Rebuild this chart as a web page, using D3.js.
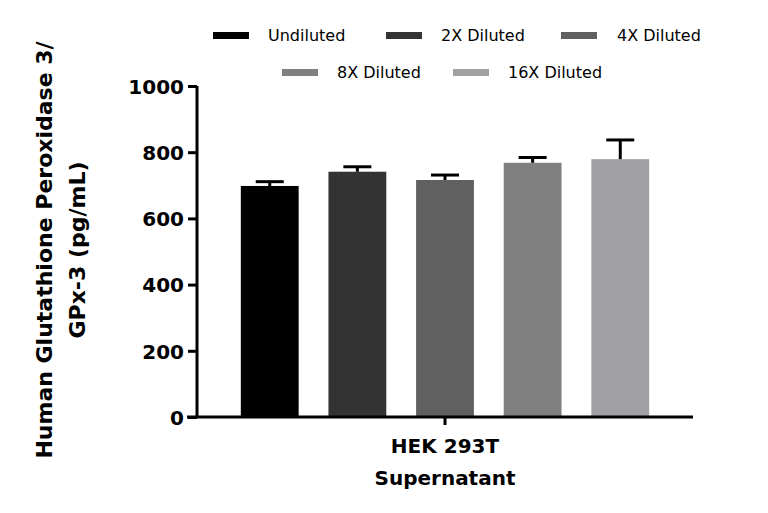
<!DOCTYPE html>
<html>
<head>
<meta charset="utf-8">
<script src="https://cdn.jsdelivr.net/npm/d3@7"></script>
<style>
  body { margin: 0; background: #fff; }
  svg text { font-family: "DejaVu Sans", "Noto Sans", sans-serif; }
</style>
</head>
<body>
<div id="chart"></div>
<script>
"use strict";

/* ── Data ── */
const groups  = ["HEK 293T Supernatant"];
const series  = ["Undiluted", "2X Diluted", "4X Diluted", "8X Diluted", "16X Diluted"];
const means   = [698, 741, 716, 768, 779];
const errors  = [13, 15, 15, 16, 58];
const colours = ["#000000", "#333333", "#606060", "#808080", "#a1a1a4"];
const yTicks  = [0, 200, 400, 600, 800, 1000];

/* ── Dimensions ── */
const W = 768, H = 513;
const margin = { top: 86, right: 75, bottom: 96, left: 197 };
const width  = W - margin.left - margin.right;
const height = H - margin.top - margin.bottom;

const svg = d3.select("#chart").append("svg")
  .attr("width", W).attr("height", H);

const g = svg.append("g")
  .attr("transform", `translate(${margin.left},${margin.top})`);

/* ── Scales ── */
const x0 = d3.scaleBand().domain(groups).range([0, width])
  .paddingInner(0).paddingOuter(0.066);
const x1 = d3.scaleBand().domain(series).range([0, x0.bandwidth()])
  .paddingInner(0.34).paddingOuter(0.17);
const y = d3.scaleLinear().domain([0, 1000]).range([height, 0]);

/* ── Bars ── */
const rows = series.map((s, i) => ({ group: groups[0], key: s, value: means[i], err: errors[i], col: colours[i] }));

const bars = g.selectAll(".bar-g").data(rows).join("g")
  .attr("transform", d => `translate(${x0(d.group) + x1(d.key)},0)`);

bars.append("rect")
  .attr("x", 0)
  .attr("y", d => y(d.value))
  .attr("width", x1.bandwidth())
  .attr("height", d => height - y(d.value))
  .attr("fill", d => d.col);

/* ── Error bars (upper only) ── */
const capW = 28;
bars.append("line")
  .attr("x1", x1.bandwidth() / 2).attr("x2", x1.bandwidth() / 2)
  .attr("y1", d => y(d.value)).attr("y2", d => y(d.value + d.err))
  .attr("stroke", "#000").attr("stroke-width", 3);
bars.append("line")
  .attr("x1", x1.bandwidth() / 2 - capW / 2).attr("x2", x1.bandwidth() / 2 + capW / 2)
  .attr("y1", d => y(d.value + d.err)).attr("y2", d => y(d.value + d.err))
  .attr("stroke", "#000").attr("stroke-width", 3);

/* ── Y axis ── */
g.append("g")
  .call(d3.axisLeft(y).tickValues(yTicks).tickSize(9).tickPadding(4).tickFormat(d3.format("d")))
  .call(a => {
    a.select(".domain").attr("stroke", "#000").attr("stroke-width", 3)
      .attr("d", `M0,${y(1000)}V${height}`);
    a.selectAll(".tick line").attr("stroke", "#000").attr("stroke-width", 3);
    a.selectAll(".tick text").attr("fill", "#000").attr("font-size", "20px")
      .attr("font-weight", "bold").attr("dy", "0.36em");
  });

/* ── X axis ── */
g.append("g")
  .attr("transform", `translate(0,${height})`)
  .call(d3.axisBottom(x0).tickSize(8).tickFormat(""))
  .call(a => {
    a.select(".domain").attr("stroke", "#000").attr("stroke-width", 3)
      .attr("d", `M-10,0H${width}`);
    a.selectAll(".tick line").attr("stroke", "#000").attr("stroke-width", 3);
  });

const cx = x0(groups[0]) + x0.bandwidth() / 2;
const xl = g.append("text")
  .attr("x", cx)
  .attr("y", height + 36)
  .attr("text-anchor", "middle")
  .attr("font-size", "20px").attr("font-weight", "bold").attr("fill", "#000");
xl.append("tspan").attr("x", cx).text("HEK 293T");
xl.append("tspan").attr("x", cx).attr("dy", 32).text("Supernatant");

/* ── Y title ── */
const yt = svg.append("text")
  .attr("transform", "translate(52,250) rotate(-90)")
  .attr("text-anchor", "middle")
  .attr("font-size", "22px").attr("font-weight", "bold").attr("fill", "#000");
yt.append("tspan").attr("x", 0).text("Human Glutathione Peroxidase 3/");
yt.append("tspan").attr("x", 0).attr("dy", 33).text("GPx-3 (pg/mL)");

/* ── Legend ── */
const legendPos = [
  { sx: 213, tx: 268, y: 35 },
  { sx: 386, tx: 441, y: 35 },
  { sx: 561, tx: 617, y: 35 },
  { sx: 282, tx: 337, y: 72 },
  { sx: 453, tx: 508, y: 72 }
];
const leg = svg.selectAll(".legend").data(rows).join("g").attr("class", "legend");
leg.append("rect")
  .attr("x", (d, i) => legendPos[i].sx)
  .attr("y", (d, i) => legendPos[i].y - 3)
  .attr("width", 36).attr("height", 7)
  .attr("fill", d => d.col);
leg.append("text")
  .attr("x", (d, i) => legendPos[i].tx)
  .attr("y", (d, i) => legendPos[i].y)
  .attr("dy", "0.35em")
  .attr("font-size", "16px").attr("fill", "#000")
  .text(d => d.key);
</script>
</body>
</html>
